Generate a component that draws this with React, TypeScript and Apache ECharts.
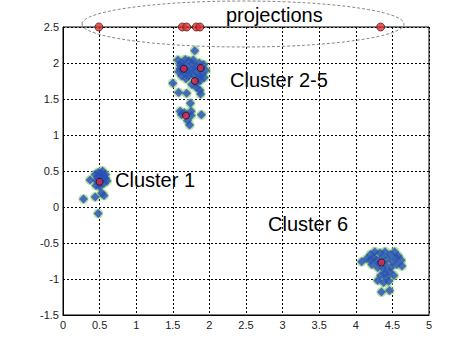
import React, { useEffect, useRef } from "react";
import * as echarts from "echarts";

const xTicks = [0, 0.5, 1, 1.5, 2, 2.5, 3, 3.5, 4, 4.5, 5];
const yTicks = [-1.5, -1, -0.5, 0, 0.5, 1, 1.5, 2, 2.5];

const cluster1Points: number[][] = [
  [0.44, 0.45], [0.48, 0.48], [0.52, 0.47], [0.55, 0.44], [0.58, 0.4], [0.6, 0.36],
  [0.47, 0.41], [0.53, 0.4], [0.5, 0.32], [0.56, 0.33], [0.46, 0.36], [0.37, 0.375],
  [0.5, 0.28], [0.44, 0.14], [0.28, 0.11], [0.53, 0.19], [0.56, 0.16], [0.48, -0.09],
  [0.54, 0.5], [0.5, 0.44], [0.45, 0.3], [0.58, 0.45], [0.51, 0.38],
];

const cluster25Points: number[][] = [
  [1.8, 2.17], [1.57, 2.04], [1.62, 2.0], [1.67, 2.05], [1.72, 2.03], [1.77, 1.99],
  [1.6, 1.92], [1.65, 1.87], [1.7, 1.95], [1.75, 1.9], [1.82, 1.95], [1.86, 2.0],
  [1.92, 1.98], [1.95, 1.9], [1.9, 1.85], [1.93, 1.8], [1.85, 1.84], [1.78, 1.83],
  [1.72, 1.82], [1.68, 1.78], [1.62, 1.82], [1.58, 1.88], [1.83, 1.72], [1.76, 1.7],
  [1.88, 1.76], [1.5, 1.72], [1.58, 1.59], [1.69, 1.58], [1.87, 1.62], [1.88, 1.57],
  [1.74, 1.44], [1.75, 1.33], [1.6, 1.33], [1.62, 1.28], [1.75, 1.27], [1.89, 1.28],
  [1.7, 1.2], [1.73, 1.14], [1.66, 1.31], [1.64, 1.96], [1.8, 1.9], [1.88, 1.92],
  [1.7, 1.88], [1.66, 1.92], [1.84, 1.78], [1.6, 1.97], [1.78, 2.04], [1.82, 1.66],
];

const cluster6Points: number[][] = [
  [4.08, -0.76], [4.15, -0.72], [4.2, -0.66], [4.26, -0.62], [4.33, -0.64], [4.4, -0.62],
  [4.47, -0.66], [4.53, -0.62], [4.58, -0.68], [4.62, -0.74], [4.63, -0.82], [4.56, -0.8],
  [4.5, -0.76], [4.43, -0.72], [4.28, -0.74], [4.22, -0.8], [4.3, -0.84], [4.38, -0.86],
  [4.46, -0.9], [4.52, -0.95], [4.42, -0.98], [4.34, -0.95], [4.3, -1.02], [4.38, -1.05],
  [4.45, -1.03], [4.35, -1.18], [4.46, -1.16], [4.4, -0.8], [4.25, -0.7], [4.36, -0.7],
  [4.32, -0.78], [4.48, -0.84], [4.4, -0.92], [4.2, -0.74], [4.55, -0.7],
];

const centroids: number[][] = [
  [0.5, 0.35], [1.65, 1.92], [1.88, 1.93], [1.8, 1.75], [1.68, 1.27], [4.35, -0.77],
];

const projectionX = [0.49, 1.63, 1.69, 1.82, 1.87, 4.34];
const projectionY = 2.5;

const labelTexts = ["projections", "Cluster 2-5", "Cluster 1", "Cluster 6"];

export default function App() {
  const ref = useRef<HTMLDivElement>(null);
  useEffect(() => {
    document.body.style.margin = "0";
    const chart = echarts.init(ref.current!, null, { renderer: "svg" });
    const allPoints = [...cluster1Points, ...cluster25Points, ...cluster6Points];
    const font = "Liberation Sans, Arial, sans-serif";
    chart.setOption({
      animation: false,
      backgroundColor: "#ffffff",
      grid: {
        left: 63, right: 45, top: 27, bottom: 39,
        show: true, borderColor: "#000", borderWidth: 1, backgroundColor: "transparent",
      },
      xAxis: {
        type: "value", min: 0, max: 5, interval: 0.5,
        axisLine: { onZero: false, lineStyle: { color: "#000" } },
        axisTick: { show: false },
        axisLabel: { color: "#222", fontSize: 11, fontFamily: font, margin: 4 },
        splitLine: { show: true, lineStyle: { color: "#000", type: [2, 2], width: 1 } },
      },
      yAxis: {
        type: "value", min: -1.5, max: 2.5, interval: 0.5,
        axisLine: { show: true, onZero: false, lineStyle: { color: "#000" } },
        axisTick: { show: false },
        axisLabel: { color: "#222", fontSize: 11, fontFamily: font, margin: 4 },
        splitLine: { show: true, lineStyle: { color: "#000", type: [2, 2], width: 1 } },
      },
      series: [
        {
          type: "scatter", data: allPoints, symbol: "circle", symbolSize: 10,
          itemStyle: { color: "rgba(140,205,110,0.75)" }, silent: true,
        },
        {
          type: "scatter", data: allPoints, symbol: "diamond", symbolSize: 9,
          itemStyle: { color: "#2850b8" },
        },
        {
          type: "scatter", data: centroids, symbol: "circle", symbolSize: 7,
          itemStyle: { color: "#e0204a", borderColor: "#111", borderWidth: 1 },
        },
        {
          type: "scatter", data: projectionX.map((x) => [x, projectionY]),
          symbol: "circle", symbolSize: 8,
          itemStyle: { color: "#e03030", borderColor: "#552222", borderWidth: 1 },
        },
      ],
      graphic: [
        {
          type: "ellipse", shape: { cx: 243, cy: 24, rx: 161, ry: 23 }, silent: true, z: 10,
          style: { fill: "none", stroke: "#888", lineWidth: 1, lineDash: [3, 2] },
        },
        { type: "text", x: 226, y: 15, z: 11, style: { text: labelTexts[0], font: `20px ${font}`, fill: "#000", verticalAlign: "middle" } },
        { type: "text", x: 230, y: 80, z: 11, style: { text: labelTexts[1], font: `20px ${font}`, fill: "#000", verticalAlign: "middle" } },
        { type: "text", x: 115, y: 180, z: 11, style: { text: labelTexts[2], font: `20px ${font}`, fill: "#000", verticalAlign: "middle" } },
        { type: "text", x: 268, y: 224, z: 11, style: { text: labelTexts[3], font: `20px ${font}`, fill: "#000", verticalAlign: "middle" } },
      ],
    });
    return () => chart.dispose();
  }, []);
  return <div ref={ref} style={{ width: 474, height: 354 }} />;
}
